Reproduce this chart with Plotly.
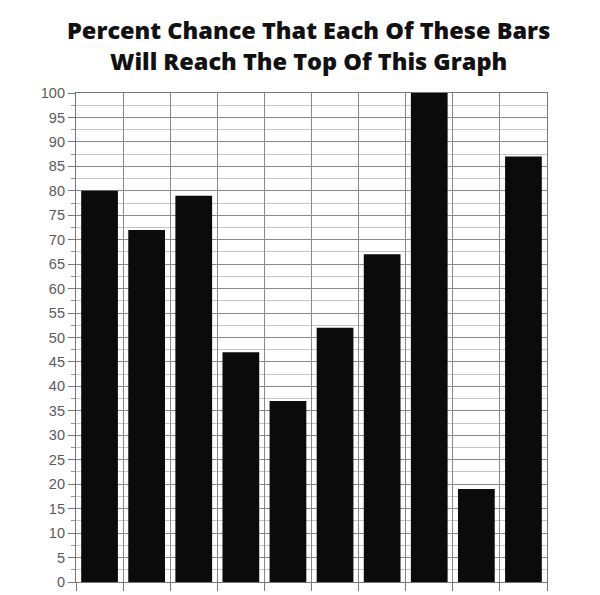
import plotly.graph_objects as go

categories = ["Bar 1", "Bar 2", "Bar 3", "Bar 4", "Bar 5",
              "Bar 6", "Bar 7", "Bar 8", "Bar 9", "Bar 10"]
values = [80, 72, 79, 47, 37, 52, 67, 100, 19, 87]
y_ticks = list(range(0, 101, 5))
title_lines = ["Percent Chance That Each Of These Bars",
               "Will Reach The Top Of This Graph"]

fig = go.Figure(go.Bar(
    x=categories, y=values,
    marker=dict(color="#0b0b0b", line=dict(width=0)),
    width=0.78,
    hoverinfo="skip",
))

W, H = 592, 587
ml, mr, mt, mb = 68, 53, 85, 13
ph = H - mt - mb

def py(fig_y):
    return (H - mb - fig_y) / ph

fig.add_annotation(
    text="<br>".join(title_lines), xref="paper", yref="paper",
    x=0.493, y=py(37.5), xanchor="center", yanchor="middle",
    showarrow=False, align="center",
    font=dict(family="Open Sans", size=23.5, color="#111", weight=800),
)

fig.update_layout(
    width=W, height=H,
    paper_bgcolor="white", plot_bgcolor="white",
    margin=dict(l=ml, r=mr, t=mt, b=mb, autoexpand=False),
    showlegend=False,
    font=dict(family="Liberation Sans", color="#555"),
)

fig.update_xaxes(
    type="category",
    tickson="boundaries",
    showticklabels=False,
    ticks="outside", ticklen=8, tickcolor="#777", tickwidth=1.2,
    showgrid=True, gridcolor="#888", gridwidth=1.2,
    showline=True, linecolor="#777", linewidth=1.2, mirror=True,
    zeroline=False,
)
fig.update_yaxes(
    range=[0, 100],
    tickvals=y_ticks,
    ticktext=[str(v) for v in y_ticks],
    ticks="outside", ticklen=7, tickcolor="#777", tickwidth=1.2,
    tickfont=dict(family="Liberation Sans", size=14.5, color="#5a5a5a"),
    showgrid=True, gridcolor="#8a8a8a", gridwidth=1.3,
    minor=dict(dtick=2.5, tick0=0, showgrid=True, gridcolor="#c4c4c4",
               gridwidth=1, ticks="outside", ticklen=4, tickcolor="#999"),
    showline=True, linecolor="#777", linewidth=1.2, mirror=True,
    zeroline=False,
)

fig.write_html("out.html")
